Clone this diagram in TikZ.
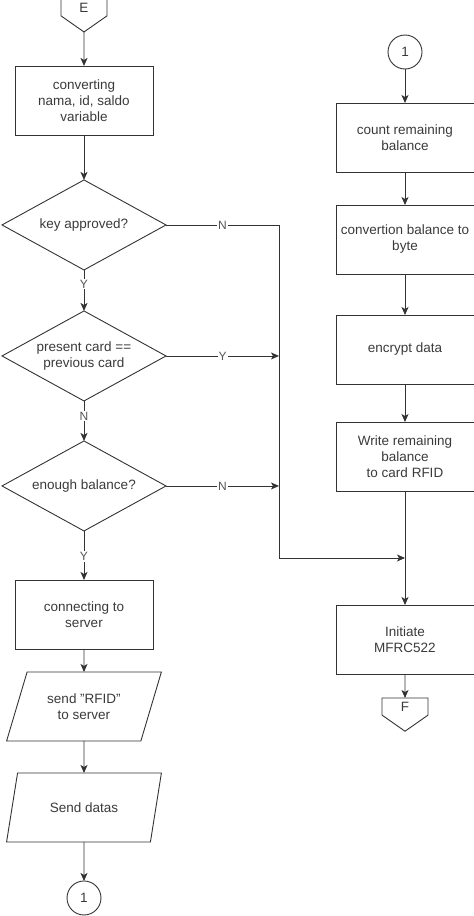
\documentclass[tikz,border=0pt]{standalone}
\usepackage{fontspec}
\setmainfont{Liberation Sans}
\definecolor{flowLine}{HTML}{333333}
\definecolor{flowText}{HTML}{3A3A3A}
\definecolor{flowLabel}{HTML}{555555}
\usepackage{tikz}
\usetikzlibrary{shapes.geometric, shapes.symbols, arrows.meta, positioning, calc}

\begin{document}
\begin{tikzpicture}[x=1pt, y=-1pt,
  every node/.style={font=\fontsize{13.5pt}{16pt}\selectfont, text=flowText, outer sep=0pt},
  proc/.style={draw=flowLine, line width=0.9pt, minimum width=138pt, minimum height=69pt,
    align=center, inner sep=2pt},
  decide/.style={draw=flowLine, line width=0.9pt, diamond, aspect=1.82, minimum width=164pt,
    minimum height=90pt, align=center, inner sep=0pt},
  io/.style={draw=flowLine, line width=0.9pt, trapezium, trapezium left angle=64,
    trapezium right angle=116, minimum width=155pt, minimum height=69pt, align=center,
    inner sep=1pt, trapezium stretches=true},
  conn/.style={draw=flowLine, line width=0.9pt, circle, minimum size=34pt, inner sep=0pt},
  offpage/.style={draw=flowLine, line width=0.9pt, signal, signal to=south, signal from=nowhere,
    signal pointer angle=110, minimum width=46pt, minimum height=20pt, inner sep=0pt},
  link/.style={draw=flowLine, line width=0.9pt},
  arrow/.style={link, -{Stealth[length=8pt, width=7pt, inset=2pt]}},
  lbl/.style={fill=white, inner sep=1pt, text=flowLabel, font=\fontsize{12pt}{14pt}\selectfont}]
  \useasboundingbox (0,0) rectangle (474,916);

  \node[offpage, anchor=north] (E) at (84,-1) {E};
  \node[proc, below=34pt of E] (conv) {converting\\nama, id, saldo\\variable};
  \node[decide, below=45pt of conv] (key) {key approved?};
  \node[decide, below=41pt of key] (same) {present card ==\\previous card};
  \node[decide, below=40pt of same] (enough) {enough balance?};
  \node[proc, below=49pt of enough] (server) {connecting to\\server};
  \node[io, below=23pt of server] (sendid) {send "RFID"\\to server};
  \node[io, below=32pt of sendid] (senddata) {Send datas};
  \node[conn, below=39pt of senddata] (out1) {1};

  \node[conn] (in1) at (405,52) {1};
  \node[proc, below=34pt of in1] (count) {count remaining\\balance};
  \node[proc, below=33pt of count] (tobyte) {convertion balance to\\byte};
  \node[proc, below=41pt of tobyte] (encrypt) {encrypt data};
  \node[proc, below=38pt of encrypt] (write) {Write remaining\\balance\\to card RFID};
  \node[proc, below=114pt of write] (init) {Initiate\\MFRC522};
  \node[offpage, below=24pt of init] (F) {F};

  \coordinate (bus) at (279,558);
  \coordinate (merge) at (write.south |- bus);

  \draw[arrow] (E) -- (conv);
  \draw[arrow] (conv) -- (key);
  \draw[arrow] (key) -- node[lbl, pos=0.35] {Y} (same);
  \draw[arrow] (same) -- node[lbl, pos=0.38] {N} (enough);
  \draw[arrow] (enough) -- node[lbl, pos=0.52] {Y} (server);
  \draw[arrow] (server) -- (sendid);
  \draw[arrow] (sendid) -- (senddata);
  \draw[arrow] (senddata) -- (out1);

  \draw[arrow] (in1) -- (count);
  \draw[arrow] (count) -- (tobyte);
  \draw[arrow] (tobyte) -- (encrypt);
  \draw[arrow] (encrypt) -- (write);
  \draw[link] (write) -- (merge);
  \draw[arrow] (merge) -- (init);
  \draw[arrow] (init) -- (F);

  \draw[arrow] (key.east) -- node[lbl] {N} (key.east -| bus) -- (bus) -- (merge);
  \draw[arrow] (same.east) -- node[lbl] {Y} (same.east -| bus);
  \draw[arrow] (enough.east) -- node[lbl] {N} (enough.east -| bus);
\end{tikzpicture}
\end{document}
